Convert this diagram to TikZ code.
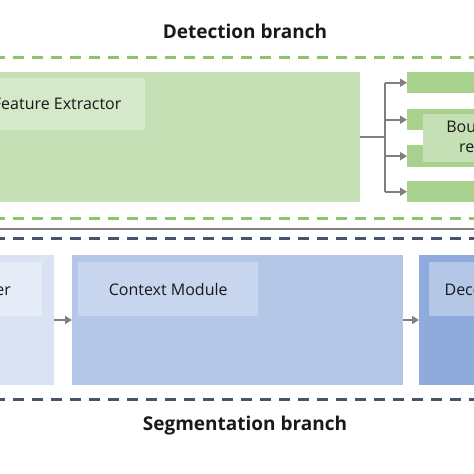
\documentclass[tikz,border=0pt]{standalone}
\usepackage{fontspec}
\setmainfont{Open Sans}
\usetikzlibrary{arrows.meta}

\definecolor{detline}{HTML}{8CC36B}
\definecolor{segline}{HTML}{44546A}
\definecolor{detbig}{HTML}{C5E0B4}
\definecolor{detin}{HTML}{D5E8CA}
\definecolor{dethead}{HTML}{A9D18E}
\definecolor{encbox}{HTML}{DAE3F3}
\definecolor{encin}{HTML}{E6ECF7}
\definecolor{ctxbox}{HTML}{B4C7E7}
\definecolor{ctxin}{HTML}{C8D5EE}
\definecolor{decbox}{HTML}{8FAADC}
\definecolor{arr}{HTML}{808080}

\tikzset{
  blk/.style={inner sep=0pt, anchor=north west, draw=none},
  lbl/.style={font=\fontsize{16}{20}\selectfont, text=black!90},
  title/.style={font=\bfseries\fontsize{19}{22}\selectfont, text=black!90},
  branchline/.style={line width=3pt, dash pattern=on 11pt off 8pt},
  conn/.style={draw=arr, line width=2.4pt, -{Triangle[length=7pt, width=8pt]}}
}

\begin{document}
\begin{tikzpicture}[x=1pt, y=-1pt]
\useasboundingbox (0,0) rectangle (474,474);
\fill [white] (0,0) rectangle (474,474);

% detection branch
\node [title] (dettitle) at (245,31) {Detection branch};
\draw [branchline, detline] (-6,57) -- (490,57);
\draw [branchline, detline] (-6,218) -- (490,218);

\node [blk, fill=detbig, minimum width=420pt, minimum height=130pt] (feat) at (-60,72) {};
\node [blk, fill=detin, lbl, minimum width=182pt, minimum height=52pt] (featin) at (-37,78) {\hspace*{6pt}Feature Extractor};

\node [blk, fill=dethead, minimum width=120pt, minimum height=21pt] (h1) at (407,72) {};
\node [blk, fill=dethead, minimum width=120pt, minimum height=21pt] (h2) at (407,109) {};
\node [blk, fill=dethead, minimum width=120pt, minimum height=22pt] (h3) at (407,145) {};
\node [blk, fill=dethead, minimum width=120pt, minimum height=21pt] (h4) at (407,181) {};
\node [blk, fill=detbig, lbl, align=center, minimum width=150pt, minimum height=48pt] (bbox) at (423,114) {Bounding box\\regression};

\coordinate (split) at (385,137);
\draw [arr, line width=2.4pt] (feat.east |- split) -- (split);
\draw [arr, line width=2.4pt] (split |- h1.west) -- (split |- h4.west);
\foreach \h in {h1,h2,h3,h4}
  \draw [conn] (split |- \h.west) -- (\h.west);

% separator
\draw [arr, line width=2.4pt] (-6,229) -- (490,229);

% segmentation branch
\draw [branchline, segline] (-6,238) -- (490,238);
\draw [branchline, segline] (-6,399) -- (490,399);

\node [blk, fill=encbox, minimum width=134pt, minimum height=130pt] (enc) at (-80,255) {};
\node [blk, fill=encin, lbl, minimum width=124pt, minimum height=54pt] (encin) at (-82,262) {Encoder};

\node [blk, fill=ctxbox, minimum width=331pt, minimum height=130pt] (ctx) at (72,255) {};
\node [blk, fill=ctxin, lbl, minimum width=180pt, minimum height=54pt] (ctxin) at (78,262) {Context Module};

\node [blk, fill=decbox, minimum width=140pt, minimum height=130pt] (dec) at (419,255) {};
\node [blk, fill=ctxbox, lbl, minimum width=94pt, minimum height=54pt] (decin) at (429,262) {Decoder};

\draw [conn] (enc.east |- 0,320) -- (ctx.west |- 0,320);
\draw [conn] (ctx.east |- 0,320) -- (dec.west |- 0,320);

\node [title] (segtitle) at (245,426) {Segmentation branch};
\end{tikzpicture}
\end{document}
